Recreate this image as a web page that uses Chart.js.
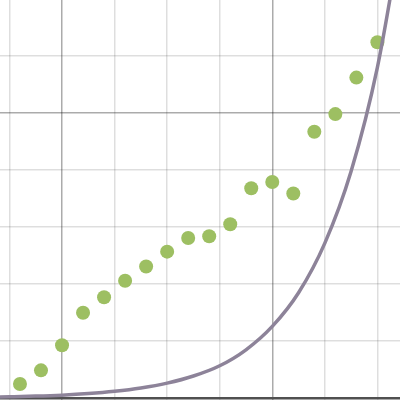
<!DOCTYPE html>
<html>
<head>
<meta charset="utf-8">
<script src="https://cdn.jsdelivr.net/npm/chart.js@4"></script>
<style>
  html, body { margin: 0; padding: 0; background: #fff; }
  #wrap { width: 400px; height: 400px; position: relative; }
</style>
</head>
<body>
<div id="wrap"><canvas id="grafica"></canvas></div>
<script>
// measured points
const puntosX = [-0.8, -0.4, 0, 0.4, 0.8, 1.2, 1.6, 2.0, 2.4, 2.8, 3.2, 3.6, 4.0, 4.4, 4.8, 5.2, 5.6, 6.0];
const puntosY = [0.25, 0.49, 0.93, 1.50, 1.77, 2.06, 2.31, 2.57, 2.81, 2.84, 3.05, 3.68, 3.79, 3.59, 4.67, 4.98, 5.62, 6.24];

// fitted curve, every half unit
const curvaX = [-1.5, -1, -0.5, 0, 0.5, 1, 1.5, 2, 2.5, 3, 3.5, 4, 4.5, 5, 5.5, 6, 6.5];
const curvaY = [0.018, 0.027, 0.038, 0.055, 0.082, 0.122, 0.18, 0.265, 0.39, 0.57, 0.85, 1.26, 1.85, 2.72, 3.98, 5.8, 8.4];

document.addEventListener('DOMContentLoaded', function () {
    const ctx = document.getElementById('grafica').getContext('2d');

    const colorRejilla = function (c, mayor) {
        const v = c.tick.value;
        if (!Number.isInteger(v)) return 'rgba(0,0,0,0)';
        return mayor(v) ? 'rgba(0,0,0,0.33)' : 'rgba(0,0,0,0.13)';
    };

    new Chart(ctx, {
        type: 'line',
        data: {
            datasets: [{
                label: 'curva',
                data: curvaX.map((x, i) => ({ x: x, y: curvaY[i] })),
                borderColor: '#8d8399',
                borderWidth: 3.5,
                pointRadius: 0,
                tension: 0.4,
                cubicInterpolationMode: 'monotone',
                fill: false
            }, {
                label: 'datos',
                data: puntosX.map((x, i) => ({ x: x, y: puntosY[i] })),
                showLine: false,
                backgroundColor: '#9dbf62',
                borderColor: '#9dbf62',
                borderWidth: 0,
                pointRadius: 7
            }]
        },
        options: {
            responsive: true,
            maintainAspectRatio: false,
            animation: false,
            layout: { padding: 0, autoPadding: false },
            plugins: {
                legend: { display: false },
                tooltip: { enabled: false }
            },
            scales: {
                x: {
                    type: 'linear',
                    min: -1.18,
                    max: 6.43,
                    ticks: { display: false, stepSize: 1, includeBounds: false },
                    border: { display: false },
                    grid: {
                        drawTicks: false,
                        tickLength: 0,
                        lineWidth: 1.5,
                        color: c => colorRejilla(c, v => v % 4 === 0)
                    }
                },
                y: {
                    type: 'linear',
                    min: -0.03,
                    max: 6.98,
                    ticks: { display: false, stepSize: 1, includeBounds: false },
                    border: { display: false },
                    grid: {
                        drawTicks: false,
                        tickLength: 0,
                        lineWidth: c => c.tick.value === 0 ? 2.5 : 1.5,
                        color: c => c.tick.value === 0 ? '#505050' : colorRejilla(c, v => v === 5)
                    }
                }
            }
        }
    });
});
</script>
</body>
</html>
